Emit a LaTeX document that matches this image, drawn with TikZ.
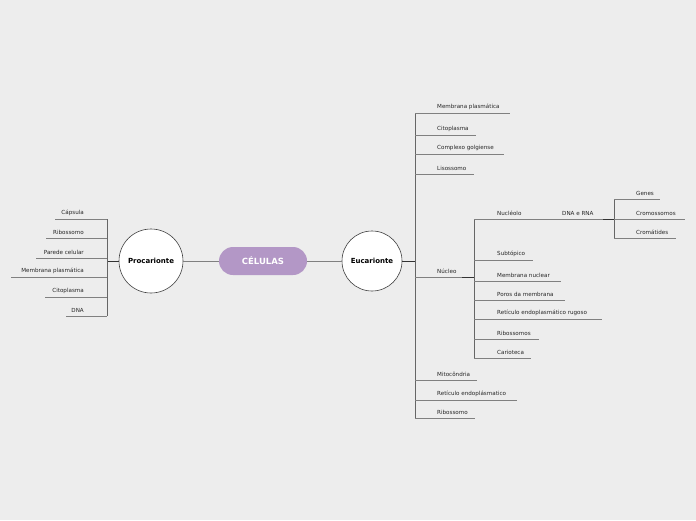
\documentclass[tikz,border=0pt]{standalone}
\usepackage{fontspec}
\setmainfont{DejaVu Sans}
\begin{document}
\begin{tikzpicture}[x=1pt,y=-1pt,
  lbl/.style={font=\fontsize{5.6}{6}\selectfont,inner sep=1pt,text=black!85},
  ln/.style={draw=black!50,line width=0.6pt},
  tr/.style={draw=black!60,line width=0.6pt},
  thick1/.style={draw=black!80,line width=0.9pt},
  circ/.style={circle,draw=black!75,fill=white,line width=0.6pt,font=\bfseries\fontsize{7}{8}\selectfont}]
\fill[black!7] (0,0) rectangle (696,520);
\useasboundingbox (0,0) rectangle (696,520);
% centre
\node[rounded corners=14pt,fill=violet!30!purple!20!,fill={rgb,255:red,179;green,151;blue,198},minimum width=88pt,minimum height=28pt,text=white,font=\bfseries\fontsize{8.5}{9}\selectfont] (cel) at (263,261) {CÉLULAS};
\node[circ,minimum size=64pt,inner sep=0pt] (pro) at (151,261) {Procarionte};
\node[circ,minimum size=60pt,inner sep=0pt] (euk) at (372,261) {Eucarionte};
\draw[ln] (cel.west) -- (pro.east);
\draw[ln] (cel.east) -- (euk.west);
% left
\coordinate (lt) at (107,261);
\draw[thick1] (pro.west) -- (lt);
\draw[tr] (107,219) -- (107,316);
\foreach \t/\y/\x [count=\i] in {Cápsula/219/55,Ribossomo/238/46,Parede celular/258/36,Membrana plasmática/277/11,Citoplasma/297/45,DNA/316/66}{
  \node[lbl,anchor=south east] (l\i) at (85,\y-2) {\t};
  \draw[ln] (\x,\y) -- (107,\y);
}
% right
\coordinate (rt) at (415,261);
\draw[thick1] (euk.east) -- (rt);
\draw[tr] (415,113) -- (415,418);
\foreach \t/\y/\x [count=\i] in {Membrana plasmática/113/510,Citoplasma/135/476,Complexo golgiense/154/504,Lisossomo/174/474,Núcleo/277/462,Mitocôndria/380/477,Retículo endoplásmatico/400/517,Ribossomo/418/475}{
  \node[lbl,anchor=south west] (r\i) at (436,\y-2) {\t};
  \draw[ln] (415,\y) -- (\x,\y);
}
\draw[thick1] (462,277) -- (474,277);
\draw[tr] (474,219) -- (474,358);
\node[lbl,anchor=south west] (nuc) at (496,217) {Nucléolo};
\node[lbl,anchor=south west] (dna) at (561,217) {DNA e RNA};
\draw[ln] (474,219) -- (603,219);
\draw[thick1] (603,219) -- (614,219);
\foreach \t/\y/\x [count=\i] in {Subtópico/260/533,Membrana nuclear/281/561,Poros da membrana/300/565,Retículo endoplasmático rugoso/319/602,Ribossomos/339/539,Carioteca/358/531}{
  \node[lbl,anchor=south west] (n\i) at (496,\y-2) {\t};
  \draw[ln] (474,\y) -- (\x,\y);
}
\draw[tr] (614,199) -- (614,238);
\foreach \t/\y/\x [count=\i] in {Genes/199/660,Cromossomos/219/685,Cromátides/238/676}{
  \node[lbl,anchor=south west] (g\i) at (635,\y-2) {\t};
  \draw[ln] (614,\y) -- (\x,\y);
}
\end{tikzpicture}
\end{document}
